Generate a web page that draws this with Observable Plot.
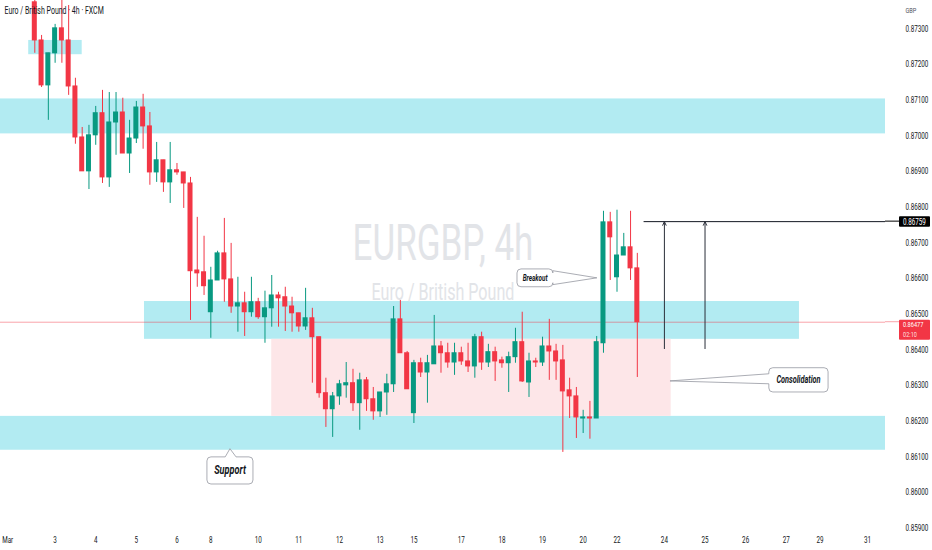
<!DOCTYPE html>
<html>
<head>
<meta charset="utf-8">
<script src="https://cdn.jsdelivr.net/npm/d3@7"></script>
<script src="https://cdn.jsdelivr.net/npm/@observablehq/plot@0.6"></script>
<style>
  html, body { margin: 0; padding: 0; background: #fff; }
  #chart { width: 932px; height: 550px; }
</style>
</head>
<body>
<div id="chart"></div>
<script>
// ---- data (EUR/GBP, 4h candles, index 0 = first visible bar) ----
const opens = [
  0.87374, 0.87267, 0.87141, 0.87231, 0.87301, 0.87267, 0.87138, 0.86995, 0.86900, 0.87001,
  0.87063, 0.86883, 0.87037, 0.87065, 0.86950, 0.86992, 0.87079, 0.87026, 0.86897, 0.86931,
  0.86869, 0.86903, 0.86897, 0.86866, 0.86622, 0.86617, 0.86505, 0.86594, 0.86670, 0.86597,
  0.86521, 0.86530, 0.86505, 0.86533, 0.86491, 0.86516, 0.86552, 0.86547, 0.86521, 0.86502,
  0.86465, 0.86488, 0.86435, 0.86278, 0.86233, 0.86269, 0.86300, 0.86306, 0.86250, 0.86314,
  0.86261, 0.86227, 0.86280, 0.86303, 0.86485, 0.86390, 0.86222, 0.86362, 0.86336, 0.86359,
  0.86409, 0.86390, 0.86364, 0.86390, 0.86367, 0.86353, 0.86435, 0.86364, 0.86393, 0.86370,
  0.86362, 0.86379, 0.86421, 0.86308, 0.86367, 0.86364, 0.86409, 0.86395, 0.86370, 0.86286,
  0.86269, 0.86207, 0.86210, 0.86207, 0.86418, 0.86757, 0.86603, 0.86664, 0.86687, 0.86628
];
const highs = [
  0.87407, 0.87281, 0.87231, 0.87312, 0.87385, 0.87365, 0.87161, 0.87023, 0.87029, 0.87082,
  0.87127, 0.87121, 0.87121, 0.87105, 0.87043, 0.87096, 0.87116, 0.87065, 0.86981, 0.86931,
  0.86981, 0.86922, 0.86897, 0.86883, 0.86771, 0.86718, 0.86631, 0.86676, 0.86768, 0.86698,
  0.86603, 0.86561, 0.86603, 0.86544, 0.86564, 0.86608, 0.86561, 0.86575, 0.86547, 0.86502,
  0.86572, 0.86516, 0.86435, 0.86320, 0.86280, 0.86314, 0.86364, 0.86345, 0.86334, 0.86322,
  0.86294, 0.86280, 0.86331, 0.86521, 0.86538, 0.86395, 0.86370, 0.86376, 0.86384, 0.86496,
  0.86423, 0.86418, 0.86418, 0.86407, 0.86418, 0.86443, 0.86449, 0.86415, 0.86407, 0.86379,
  0.86393, 0.86460, 0.86505, 0.86390, 0.86376, 0.86435, 0.86485, 0.86415, 0.86412, 0.86320,
  0.86294, 0.86230, 0.86255, 0.86437, 0.86788, 0.86785, 0.86791, 0.86726, 0.86788, 0.86670
];
const lows = [
  0.87231, 0.87135, 0.87043, 0.87203, 0.87203, 0.87113, 0.86976, 0.86900, 0.86849, 0.86973,
  0.86866, 0.86855, 0.86945, 0.86950, 0.86894, 0.86978, 0.86962, 0.86861, 0.86869, 0.86841,
  0.86810, 0.86889, 0.86796, 0.86482, 0.86575, 0.86552, 0.86432, 0.86594, 0.86533, 0.86502,
  0.86449, 0.86437, 0.86491, 0.86485, 0.86418, 0.86463, 0.86463, 0.86451, 0.86449, 0.86449,
  0.86454, 0.86306, 0.86264, 0.86182, 0.86154, 0.86244, 0.86264, 0.86227, 0.86174, 0.86227,
  0.86202, 0.86210, 0.86216, 0.86280, 0.86390, 0.86289, 0.86193, 0.86322, 0.86250, 0.86359,
  0.86334, 0.86348, 0.86328, 0.86356, 0.86336, 0.86320, 0.86342, 0.86350, 0.86311, 0.86348,
  0.86280, 0.86362, 0.86308, 0.86266, 0.86350, 0.86353, 0.86314, 0.86314, 0.86112, 0.86207,
  0.86151, 0.86165, 0.86149, 0.86207, 0.86390, 0.86594, 0.86561, 0.86664, 0.86594, 0.86322
];
const closes = [
  0.87267, 0.87141, 0.87231, 0.87301, 0.87267, 0.87138, 0.86995, 0.86900, 0.87001, 0.87063,
  0.86883, 0.87037, 0.87065, 0.86950, 0.86992, 0.87079, 0.87026, 0.86897, 0.86931, 0.86869,
  0.86903, 0.86897, 0.86866, 0.86620, 0.86614, 0.86578, 0.86594, 0.86670, 0.86597, 0.86521,
  0.86530, 0.86505, 0.86533, 0.86491, 0.86516, 0.86552, 0.86544, 0.86521, 0.86502, 0.86465,
  0.86488, 0.86435, 0.86278, 0.86233, 0.86269, 0.86303, 0.86306, 0.86250, 0.86314, 0.86261,
  0.86227, 0.86280, 0.86303, 0.86485, 0.86390, 0.86289, 0.86362, 0.86336, 0.86362, 0.86409,
  0.86390, 0.86364, 0.86390, 0.86367, 0.86353, 0.86435, 0.86364, 0.86393, 0.86367, 0.86362,
  0.86379, 0.86421, 0.86311, 0.86367, 0.86364, 0.86409, 0.86395, 0.86367, 0.86283, 0.86269,
  0.86210, 0.86210, 0.86207, 0.86421, 0.86757, 0.86715, 0.86664, 0.86687, 0.86628, 0.86477
];

// x-axis: day labels at the bar index where each day starts
const dayTickIndex = [-4, 3, 9, 15, 21, 26, 33, 39, 45, 51, 56, 63, 69, 75, 81, 86, 93, 99, 105, 111, 116, 123];
const dayTickLabel = ["Mar", "3", "4", "5", "6", "8", "10", "11", "12", "13", "15", "17", "18", "19", "20", "22", "24", "25", "26", "27", "29", "31"];
// y-axis ticks
const priceTicks = [0.859, 0.860, 0.861, 0.862, 0.863, 0.864, 0.865, 0.866, 0.867, 0.868, 0.869, 0.870, 0.871, 0.872, 0.873];

// zones (price) – full-width bands
const bandLo = [0.87005, 0.86118];
const bandHi = [0.87103, 0.86213];
// zones with bar-index extent
const boxX1 = [-0.9, 16.2];
const boxX2 = [7.0, 112.95];
const boxLo = [0.87227, 0.86429];
const boxHi = [0.87267, 0.86535];
const consX1 = 35.0, consX2 = 94.0, consLo = 0.86213, consHi = 0.86429;

// target level and arrows
const targetLevel = 0.86759;
const targetStart = 90;
const arrowIndex = [93, 99];
const arrowFrom = 0.86403;

// callouts
const calloutText = ["Breakout", "Consolidation", "Support"];
const calloutX1 = [71.3, 108.5, 25.5];
const calloutX2 = [76.6, 117.25, 32.3];
const calloutHi = [0.86625, 0.86348, 0.86098];
const calloutLo = [0.86575, 0.86280, 0.86022];
const calloutSide = ["right", "left", "top"];
const calloutTipX = [83.1, 93.9, 28.9];
const calloutTipY = [0.86600, 0.86311, 0.86121];
const calloutBaseA = [0.86620, 0.86331, 28.2];
const calloutBaseB = [0.86581, 0.86303, 29.8];
const calloutFont = [9, 10.5, 13];

const titleText = "Euro / British Pound · 4h · FXCM";
const watermark1 = "EURGBP, 4h";
const watermark2 = "Euro / British Pound";
const currency = "GBP";
const countdown = "02:10";

// ---- build ----
const GREEN = "#089981", RED = "#f23645", CYAN = "#b2ebf2", PINK = "#fde6e8";
const SQX = 0.7;
const W = 932, H = 550, MR = 47;
const xDomain = [-5.067, 125.66];

const candles = opens.map((o, i) => ({i, o, h: highs[i], l: lows[i], c: closes[i], up: closes[i] >= o}));
const bands = bandLo.map((lo, k) => ({lo, hi: bandHi[k]}));
const boxes = boxX1.map((x1, k) => ({x1, x2: boxX2[k], lo: boxLo[k], hi: boxHi[k]}));
const lastClose = closes[closes.length - 1];

const chart = Plot.plot({
  width: W, height: H,
  marginLeft: 0, marginRight: MR, marginTop: 0, marginBottom: 20,
  style: {background: "#fff", fontFamily: "Roboto, 'Noto Sans', sans-serif", fontSize: "9px", color: "#131722"},
  x: {domain: xDomain},
  y: {domain: [0.85893, 0.87379]},
  marks: [
    Plot.rectY(bands, {y1: "lo", y2: "hi", fill: CYAN}),
    Plot.rect(boxes, {x1: "x1", x2: "x2", y1: "lo", y2: "hi", fill: CYAN}),
    Plot.rect([{x1: consX1, x2: consX2, lo: consLo, hi: consHi}], {x1: "x1", x2: "x2", y1: "lo", y2: "hi", fill: PINK}),
    Plot.text([watermark1], {text: d => d, frameAnchor: "middle", dy: -22, fontSize: 50, fill: "#e2e4e8"}),
    Plot.text([watermark2], {text: d => d, frameAnchor: "middle", dy: 27, fontSize: 23, fill: "#e2e4e8"}),
    Plot.ruleY([lastClose], {y: d => d, stroke: RED, strokeOpacity: 0.45, strokeWidth: 1}),
    Plot.ruleX(candles, {filter: d => d.up, x: "i", y1: "l", y2: "h", stroke: GREEN, strokeWidth: 1, clip: true}),
    Plot.ruleX(candles, {filter: d => !d.up, x: "i", y1: "l", y2: "h", stroke: RED, strokeWidth: 1, clip: true}),
    Plot.rect(candles, {filter: d => d.up, x1: d => d.i - 0.37, x2: d => d.i + 0.37, y1: "o", y2: "c", fill: GREEN, insetTop: -0.5, insetBottom: -0.5, clip: true}),
    Plot.rect(candles, {filter: d => !d.up, x1: d => d.i - 0.37, x2: d => d.i + 0.37, y1: "o", y2: "c", fill: RED, insetTop: -0.5, insetBottom: -0.5, clip: true}),
    Plot.ruleY([{y: targetLevel, x1: targetStart, x2: xDomain[1]}], {y: "y", x1: "x1", x2: "x2", stroke: "#131722", strokeWidth: 1}),
    Plot.arrow(arrowIndex.map(x => ({x, y1: arrowFrom, y2: targetLevel})), {x: "x", y1: "y1", y2: "y2", stroke: "#2a2e39", strokeWidth: 1, headLength: 6, headAngle: 50}),
    Plot.axisY({anchor: "right", ticks: priceTicks, tickSize: 0, tickPadding: 20, tickFormat: d => d.toFixed(5), fontSize: 9, fill: "#131722", label: null}),
    Plot.axisX({ticks: dayTickIndex, tickSize: 0, tickPadding: 6, tickFormat: d => dayTickLabel[dayTickIndex.indexOf(d)], fontSize: 9, fill: "#131722", label: null}),
    Plot.text([titleText], {text: d => d, frameAnchor: "top-left", dx: 4, dy: 10, textAnchor: "start", lineAnchor: "middle", fontSize: 10, fill: "#131722"}),
    Plot.text([currency], {text: d => d, frameAnchor: "top-right", dx: 20, dy: 10, textAnchor: "start", lineAnchor: "middle", fontSize: 8, fill: "#50535e"})
  ]
});
document.getElementById("chart").appendChild(chart);

const xs = chart.scale("x"), ys = chart.scale("y");
const svg = d3.select(chart);
const frameRight = W - MR;

// callout bubbles
calloutText.forEach((label, k) => {
  const X0 = xs.apply(calloutX1[k]), X1 = xs.apply(calloutX2[k]);
  const Y0 = ys.apply(calloutHi[k]), Y1 = ys.apply(calloutLo[k]);
  const tx = xs.apply(calloutTipX[k]), ty = ys.apply(calloutTipY[k]);
  const r = 4;
  let d = `M${X0 + r},${Y0}`;
  if (calloutSide[k] === "top") {
    d += `L${xs.apply(calloutBaseA[k])},${Y0}L${tx},${ty}L${xs.apply(calloutBaseB[k])},${Y0}`;
  }
  d += `L${X1 - r},${Y0}Q${X1},${Y0} ${X1},${Y0 + r}`;
  if (calloutSide[k] === "right") {
    d += `L${X1},${ys.apply(calloutBaseA[k])}L${tx},${ty}L${X1},${ys.apply(calloutBaseB[k])}`;
  }
  d += `L${X1},${Y1 - r}Q${X1},${Y1} ${X1 - r},${Y1}L${X0 + r},${Y1}Q${X0},${Y1} ${X0},${Y1 - r}`;
  if (calloutSide[k] === "left") {
    d += `L${X0},${ys.apply(calloutBaseB[k])}L${tx},${ty}L${X0},${ys.apply(calloutBaseA[k])}`;
  }
  d += `L${X0},${Y0 + r}Q${X0},${Y0} ${X0 + r},${Y0}Z`;
  svg.append("path").attr("d", d).attr("fill", "#fff").attr("stroke", "#9598a1").attr("stroke-width", 0.8);
  svg.append("text").text(label)
    .attr("x", (X0 + X1) / 2).attr("y", (Y0 + Y1) / 2)
    .attr("text-anchor", "middle").attr("dominant-baseline", "central")
    .attr("font-size", calloutFont[k]).attr("font-weight", "bold").attr("font-style", "italic")
    .attr("fill", "#131722");
});

// price tags on the right scale
function tag(price, bg, lines, top, h, fs, first, step) {
  const cy = ys.apply(price);
  svg.append("line").attr("x1", frameRight).attr("x2", frameRight + 14).attr("y1", cy).attr("y2", cy)
    .attr("stroke", bg).attr("stroke-opacity", bg === RED ? 0.45 : 1);
  svg.append("rect").attr("x", frameRight + 14).attr("y", cy - top).attr("width", 31).attr("height", h)
    .attr("fill", bg).attr("rx", 1);
  lines.forEach((t, j) => {
    svg.append("text").text(t).attr("x", frameRight + 18).attr("y", cy - top + first + j * step)
      .attr("text-anchor", "start")
      .attr("dominant-baseline", "central").attr("font-size", fs).attr("fill", "#fff")
      .attr("fill-opacity", j === 0 ? 1 : 0.85);
  });
}
tag(targetLevel, "#000", [targetLevel.toFixed(5)], 5, 10.5, 9, 5.5, 0);
tag(lastClose, RED, [lastClose.toFixed(5), countdown], 2, 20, 8, 5, 9.6);

// horizontal squash of the text (reference is rendered narrow)
const NS = "http://www.w3.org/2000/svg";
chart.querySelectorAll("text").forEach(t => {
  const anchor = getComputedStyle(t).textAnchor;
  const g = document.createElementNS(NS, "g");
  t.parentNode.insertBefore(g, t);
  g.appendChild(t);
  const bb = g.getBBox();
  const ox = anchor === "middle" ? bb.x + bb.width / 2 : anchor === "end" ? bb.x + bb.width : bb.x;
  g.setAttribute("transform", `translate(${ox},0) scale(${SQX},1) translate(${-ox},0)`);
});
</script>
</body>
</html>
